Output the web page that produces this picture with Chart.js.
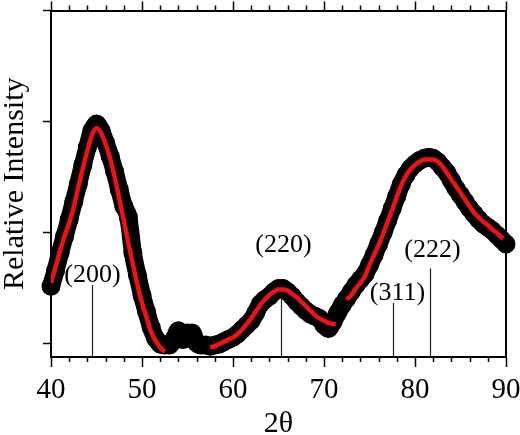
<!DOCTYPE html>
<html><head><meta charset="utf-8">
<script src="https://cdn.jsdelivr.net/npm/chart.js@4.4.0/dist/chart.umd.min.js"></script>
<style>html,body{margin:0;padding:0;background:#fff;}#wrap{width:520px;height:435px;position:relative;}</style>
</head><body><div id="wrap"><canvas id="c"></canvas></div>
<script>
// measured diffraction data (2θ, relative intensity)
const dataAngles = [40,40.5,41,41.5,42,42.5,43,43.5,44,44.5,45,45.5,46,46.5,47,47.5,48,48.5,49,49.5,
  50,50.5,51,51.5,52,52.5,53,53.5,54,54.5,55,55.5,56,56.5,57,57.5,58,58.5,59,59.5,
  60,60.5,61,61.5,62,62.5,63,63.5,64,64.5,65,65.5,66,66.5,67,67.5,68,68.5,69,69.5,
  70,70.5,71,71.5,72,72.5,73,73.5,74,74.5,75,75.5,76,76.5,77,77.5,78,78.5,79,79.5,
  80,80.5,81,81.5,82,82.5,83,83.5,84,84.5,85,85.5,86,86.5,87,87.5,88,88.5,89,89.5,90];
const dataValues = [0.52,0.66,0.82,0.97,1.12,1.28,1.44,1.61,1.77,1.92,1.98,1.92,1.81,1.69,1.55,1.39,1.24,1.14,0.82,0.62,
  0.44,0.29,0.15,0.05,0.00,-0.01,-0.01,0.04,0.12,0.04,0.10,0.10,0.01,-0.01,-0.01,-0.02,-0.01,0.00,0.02,0.04,
  0.06,0.09,0.13,0.17,0.21,0.28,0.36,0.40,0.43,0.47,0.50,0.50,0.47,0.43,0.38,0.34,0.30,0.27,0.25,0.23,
  0.17,0.14,0.20,0.28,0.35,0.41,0.47,0.53,0.58,0.63,0.71,0.80,0.90,1.00,1.11,1.22,1.33,1.44,1.52,1.58,
  1.62,1.65,1.67,1.68,1.67,1.64,1.59,1.54,1.47,1.40,1.34,1.28,1.22,1.17,1.12,1.08,1.05,1.02,0.98,0.94,0.90];
// fitted curve, three segments separated by null
const fitAngles = [40,40.5,41,41.5,42,42.5,43,43.5,44,44.5,45,45.5,46,46.5,47,47.5,48,48.5,49,49.5,50,50.5,51,51.5,52,52.5,
  null,
  57.5,58,58.5,59,59.5,60,60.5,61,61.5,62,62.5,63,63.5,64,64.5,65,65.5,66,66.5,67,67.5,68,68.5,69,69.5,70,70.5,71,71.3,
  null,
  72.5,73,73.5,74,74.5,75,75.5,76,76.5,77,77.5,78,78.5,79,79.5,80,80.5,81,81.5,82,82.5,83,83.5,84,84.5,85,85.5,86,86.5,87,87.5,88,88.5,89,89.5,89.7];
const fitValues = [0.55,0.69,0.84,0.97,1.09,1.23,1.41,1.58,1.74,1.88,1.94,1.90,1.80,1.67,1.50,1.31,1.11,0.91,0.72,0.53,0.37,0.24,0.11,0.03,-0.03,-0.07,
  null,
  -0.03,-0.02,0.00,0.02,0.04,0.06,0.09,0.13,0.18,0.23,0.29,0.35,0.40,0.44,0.47,0.49,0.49,0.48,0.45,0.42,0.38,0.34,0.30,0.26,0.23,0.21,0.19,0.18,0.18,
  null,
  0.40,0.44,0.50,0.55,0.61,0.71,0.80,0.89,0.99,1.10,1.21,1.32,1.43,1.51,1.57,1.61,1.64,1.66,1.66,1.66,1.64,1.60,1.54,1.48,1.42,1.36,1.30,1.24,1.18,1.14,1.10,1.07,1.03,1.00,0.96,0.95];
const xMajorTicks = [40,50,60,70,80,90];
const xMinorTicks = [42,44,46,48,52,54,56,58,62,64,66,68,72,74,76,78,82,84,86,88];
const yMajorTicks = [0,1,2,3];
const peakLabels = ['(200)','(220)','(311)','(222)'];
const peakAngles = [44.5,65.25,77.6,81.7];
const peakLineTops = [0.53,0.46,0.37,0.68];

const SERIF = '"Liberation Serif","Times New Roman",serif';

const fitSegments = [];
let cur = [];
fitAngles.forEach((a,i)=>{
  if (a === null) { if (cur.length) fitSegments.push(cur); cur = []; }
  else cur.push({x:a, y:fitValues[i]});
});
if (cur.length) fitSegments.push(cur);

const datasets = fitSegments.map(seg=>({
  data: seg, borderColor:'#f01212', borderWidth:4.5, pointRadius:0,
  tension:0.4, cubicInterpolationMode:'monotone', order:0, fill:false
}));
datasets.push({
  data: dataAngles.map((a,i)=>({x:a,y:dataValues[i]})),
  borderColor:'#000', borderWidth:18, borderJoinStyle:'round', borderCapStyle:'round',
  pointRadius:8.5, pointBorderWidth:2, pointBorderColor:'#000', pointBackgroundColor:'rgba(0,0,0,0)',
  tension:0.4, cubicInterpolationMode:'monotone', order:1, clip:false, fill:false
});

const peakPlugin = {
  id:'peaks',
  beforeDatasetsDraw(chart, args, opts){
    const xs = chart.scales.x, ys = chart.scales.y, ctx = chart.ctx;
    const bottom = chart.chartArea.bottom;
    ctx.save();
    ctx.strokeStyle = '#222'; ctx.lineWidth = 1.2;
    ctx.fillStyle = '#000'; ctx.font = '26px ' + SERIF;
    ctx.textAlign = 'center'; ctx.textBaseline = 'alphabetic';
    peakAngles.forEach((a,i)=>{
      const px = Math.round(xs.getPixelForValue(a)) + 0.5;
      const top = ys.getPixelForValue(peakLineTops[i]);
      ctx.beginPath(); ctx.moveTo(px, top); ctx.lineTo(px, bottom); ctx.stroke();
      ctx.fillText(peakLabels[i], px + opts.dx[i], top + opts.dy[i]);
    });
    ctx.restore();
  }
};
const minorPlugin = {
  id:'minor',
  afterDraw(chart){
    const xs = chart.scales.x, ctx = chart.ctx, ca = chart.chartArea;
    ctx.save(); ctx.strokeStyle = '#000'; ctx.lineWidth = 1.5;
    xMinorTicks.forEach(v=>{
      const px = Math.round(xs.getPixelForValue(v)) + 0.5;
      ctx.beginPath(); ctx.moveTo(px, ca.bottom); ctx.lineTo(px, ca.bottom + 5); ctx.stroke();
      ctx.beginPath(); ctx.moveTo(px, ca.top); ctx.lineTo(px, ca.top - 5); ctx.stroke();
    });
    ctx.restore();
  }
};
const noPad = s => { s.paddingLeft = 0; s.paddingRight = 0; s.paddingTop = 0; s.paddingBottom = 0; };

new Chart(document.getElementById('c'), {
  type:'line',
  data:{ datasets },
  plugins:[peakPlugin, minorPlugin],
  options:{
    responsive:true, maintainAspectRatio:false, animation:false,
    layout:{ padding:0 },
    plugins:{ legend:{display:false}, tooltip:{enabled:false},
      peaks:{ dx:[0,2,4,2], dy:[-3,-41,-3,-11] } },
    scales:{
      x:{ type:'linear', position:'bottom', min:40, max:90,
        afterBuildTicks:s=>{ s.ticks = xMajorTicks.map(v=>({value:v})); },
        afterFit:s=>{ s.height = 78; noPad(s); },
        grid:{ drawOnChartArea:false, tickLength:10, tickColor:'#000', tickWidth:1.5 },
        border:{ color:'#000', width:2 },
        ticks:{ color:'#000', font:{family:SERIF, size:29}, padding:6, maxRotation:0, autoSkip:false },
        title:{ display:true, text:'2θ', color:'#000', font:{family:SERIF, size:30, lineHeight:'22px'}, padding:0 }
      },
      xTop:{ type:'linear', position:'top', min:40, max:90,
        afterBuildTicks:s=>{ s.ticks = xMajorTicks.map(v=>({value:v})); },
        afterFit:s=>{ s.height = 10; noPad(s); },
        grid:{ drawOnChartArea:false, tickLength:9, tickColor:'#000', tickWidth:1.5 },
        border:{ color:'#000', width:2 },
        ticks:{ display:false }
      },
      y:{ type:'linear', position:'left', min:-0.117, max:3,
        afterBuildTicks:s=>{ s.ticks = yMajorTicks.map(v=>({value:v})); },
        afterFit:s=>{ s.width = 51; noPad(s); },
        grid:{ drawOnChartArea:false, tickLength:8, tickColor:'#000', tickWidth:1.5 },
        border:{ color:'#000', width:2 },
        ticks:{ display:false },
        title:{ display:true, text:'Relative Intensity', color:'#000', font:{family:SERIF, size:30, lineHeight:'30px'}, padding:0 }
      },
      yRight:{ type:'linear', position:'right', min:-0.117, max:3,
        afterFit:s=>{ s.width = 14; noPad(s); },
        grid:{ display:false },
        border:{ color:'#000', width:2 },
        ticks:{ display:false }
      }
    }
  }
});
</script>
</body></html>
